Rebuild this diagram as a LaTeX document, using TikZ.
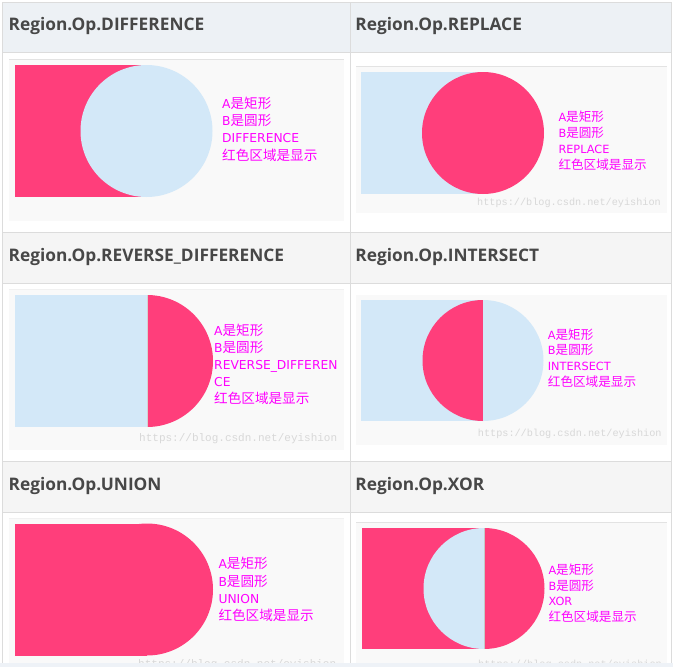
\documentclass[tikz,border=0pt]{standalone}
\usepackage{fontspec}
\newfontfamily\hdrfont{Open Sans}
\newfontfamily\cjkfont{Noto Sans CJK SC}
\newfontfamily\latfont{DejaVu Sans}
\newfontfamily\wmfont{Liberation Mono}
\definecolor{pinkr}{HTML}{FF3E7B}
\definecolor{lblue}{HTML}{D3E8F8}
\definecolor{hdrA}{HTML}{EDF1F5}
\definecolor{hdrB}{HTML}{F5F5F5}
\definecolor{gridc}{HTML}{DCDCDC}
\definecolor{boxbg}{HTML}{F9F9F9}
\definecolor{hdtext}{HTML}{474747}
\definecolor{wmc}{HTML}{D8D8D8}
\definecolor{stripc}{HTML}{EEF2F7}
\definecolor{lblc}{HTML}{FF00FF}
\newcommand\LatL{\latfont\fontsize{12.3}{12.3}\selectfont}
\newcommand\CjkL{\cjkfont\fontsize{13.6}{13.6}\selectfont}
\newcommand\LatR{\latfont\fontsize{11.3}{11.3}\selectfont}
\newcommand\CjkR{\cjkfont\fontsize{12.6}{12.6}\selectfont}
\tikzset{
  hdr/.style={anchor=base west, inner sep=0pt, text=hdtext, font=\hdrfont\bfseries\fontsize{17.3}{17.3}\selectfont},
  lbl/.style={anchor=base west, inner sep=0pt, text=lblc},
  wmL/.style={anchor=base west, inner sep=0pt, text=wmc, font=\wmfont\fontsize{11}{11}\selectfont},
  wmR/.style={anchor=base west, inner sep=0pt, text=wmc, font=\wmfont\fontsize{10.2}{10.2}\selectfont},
  gridline/.style={draw=gridc, line width=1pt},
  boxtop/.style={draw=gridc!80, line width=1pt},
}
\begin{document}
\begin{tikzpicture}[x=1pt,y=-1pt]
\useasboundingbox (0,0) rectangle (673,667);
\fill[white] (0,0) rectangle (673,667);
% header backgrounds
\fill[hdrA] (2,2) rectangle (671.5,52);
\fill[hdrB] (2,232) rectangle (671.5,283);
\fill[hdrB] (2,461) rectangle (671.5,512.5);
% image boxes
\fill[boxbg] (9,59) rectangle (344,221);
\draw[boxtop] (9,59.5) -- (344,59.5);
\fill[boxbg] (356,66) rectangle (667,213);
\draw[boxtop] (356,66.5) -- (667,66.5);
\fill[boxbg] (9,289) rectangle (344,450);
\draw[boxtop, draw=gridc!40] (9,289.5) -- (344,289.5);
\fill[boxbg] (356,295) rectangle (667,445);
\fill[boxbg] (9,518) rectangle (344,667);
\draw[boxtop, draw=gridc!40] (9,518.5) -- (344,518.5);
\fill[boxbg] (356,522) rectangle (667,667);
\draw[boxtop] (356,522.5) -- (667,522.5);
% cell 1 DIFFERENCE
\fill[pinkr] (15,65) rectangle (146.5,197);
\fill[lblue] (146.5,131) circle[radius=66];
% cell 2 REPLACE
\fill[lblue] (361,72) rectangle (483,194);
\fill[pinkr] (483,133) circle[radius=61];
% cell 3 REVERSE_DIFFERENCE
\fill[lblue] (15,295) rectangle (147,427);
\fill[pinkr] (147,295) arc[start angle=270, end angle=450, radius=66] -- cycle;
\draw[gray!35, line width=0.6pt] (147,295) -- (147,427);
% cell 4 INTERSECT
\fill[lblue] (361,300) rectangle (483,421);
\fill[pinkr] (483,300) arc[start angle=270, end angle=90, radius=60.5] -- cycle;
\fill[lblue] (483,300) arc[start angle=270, end angle=450, radius=60.5] -- cycle;
% cell 5 UNION
\fill[pinkr] (15,523.5) rectangle (147,655.5);
\fill[pinkr] (147,589.5) circle[radius=66];
% cell 6 XOR
\fill[pinkr] (361.5,528) rectangle (484,649);
\fill[lblue] (484,528) arc[start angle=270, end angle=90, radius=60.5] -- cycle;
\fill[pinkr] (484,528) arc[start angle=270, end angle=450, radius=60.5] -- cycle;
\draw[gray!45, line width=0.8pt] (484,528) -- (484,649);
% headers
\node[hdr] (h1) at (8.5,30) {Region.Op.DIFFERENCE};
\node[hdr] (h2) at (355.2,30) {Region.Op.REPLACE};
\node[hdr] (h3) at (8.5,261) {Region.Op.REVERSE\_DIFFERENCE};
\node[hdr] (h4) at (355.2,261.5) {Region.Op.INTERSECT};
\node[hdr] (h5) at (8.5,490) {Region.Op.UNION};
\node[hdr] (h6) at (355.2,490) {Region.Op.XOR};
% labels cell 1
\node[lbl] (a1) at (222,108) {{\LatL A}{\CjkL 是矩形}};
\node[lbl] (b1) at (222,125.3) {{\LatL B}{\CjkL 是圆形}};
\node[lbl] (c1) at (222,142.6) {\LatL DIFFERENCE};
\node[lbl] (d1) at (222,160) {\CjkL 红色区域是显示};
% labels cell 2
\node[lbl] (a2) at (558.3,121.5) {{\LatR A}{\CjkR 是矩形}};
\node[lbl] (b2) at (558.3,137.5) {{\LatR B}{\CjkR 是圆形}};
\node[lbl] (c2) at (558.3,153) {\LatR REPLACE};
\node[lbl] (d2) at (558.3,169) {\CjkR 红色区域是显示};
% labels cell 3
\node[lbl] (a3) at (214,335) {{\LatL A}{\CjkL 是矩形}};
\node[lbl] (b3) at (214,352) {{\LatL B}{\CjkL 是圆形}};
\node[lbl] (c3) at (214,369) {\LatL REVERSE\_DIFFEREN};
\node[lbl] (e3) at (214,386) {\LatL CE};
\node[lbl] (d3) at (214,403) {\CjkL 红色区域是显示};
% labels cell 4
\node[lbl] (a4) at (547.7,339) {{\LatR A}{\CjkR 是矩形}};
\node[lbl] (b4) at (547.7,354.7) {{\LatR B}{\CjkR 是圆形}};
\node[lbl] (c4) at (547.7,370.4) {\LatR INTERSECT};
\node[lbl] (d4) at (547.7,386) {\CjkR 红色区域是显示};
% labels cell 5
\node[lbl] (a5) at (218.3,568.5) {{\LatL A}{\CjkL 是矩形}};
\node[lbl] (b5) at (218.3,586) {{\LatL B}{\CjkL 是圆形}};
\node[lbl] (c5) at (218.3,603) {\LatL UNION};
\node[lbl] (d5) at (218.3,620) {\CjkL 红色区域是显示};
% labels cell 6
\node[lbl] (a6) at (548.3,574.3) {{\LatR A}{\CjkR 是矩形}};
\node[lbl] (b6) at (548.3,590) {{\LatR B}{\CjkR 是圆形}};
\node[lbl] (c6) at (548.3,605.7) {\LatR XOR};
\node[lbl] (d6) at (548.3,621.5) {\CjkR 红色区域是显示};
% watermarks
\node[wmR] (w2) at (477,205.5) {https://blog.csdn.net/eyishion};
\node[wmL] (w3) at (139,441) {https://blog.csdn.net/eyishion};
\node[wmR] (w4) at (477.7,436) {https://blog.csdn.net/eyishion};
\node[wmL] (w5) at (138,667) {https://blog.csdn.net/eyishion};
\node[wmR] (w6) at (478,667) {https://blog.csdn.net/eyishion};
% bottom strip
\fill[stripc] (0,662.7) rectangle (673,667);
% grid lines
\draw[gridline] (2,2) -- (671.5,2);
\draw[gridline] (2,52) -- (671.5,52);
\draw[gridline] (2,232) -- (671.5,232);
\draw[gridline] (2,283) -- (671.5,283);
\draw[gridline] (2,461) -- (671.5,461);
\draw[gridline] (2,512.5) -- (671.5,512.5);
\draw[gridline] (2.5,2) -- (2.5,662.7);
\draw[gridline] (350.3,2) -- (350.3,662.7);
\draw[gridline] (671.5,2) -- (671.5,662.7);
\end{tikzpicture}
\end{document}
